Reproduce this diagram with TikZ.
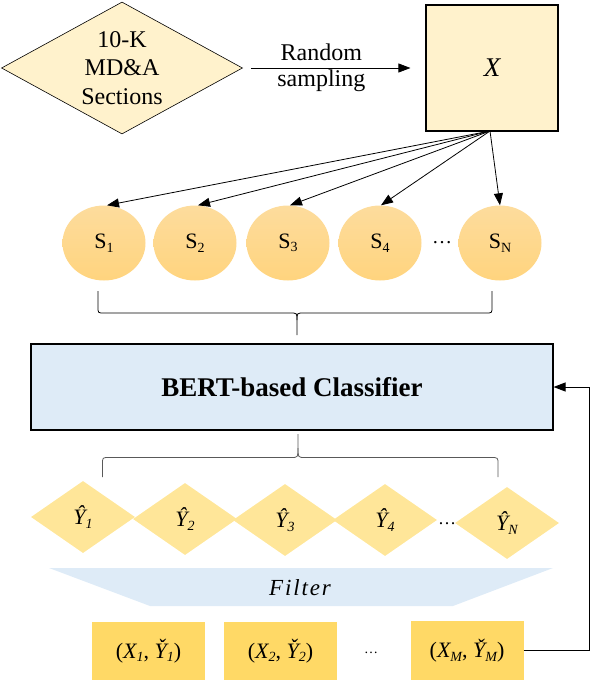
\documentclass[tikz,border=0pt]{standalone}
\usepackage{fontspec}
\setmainfont{Liberation Serif}
\usetikzlibrary{shapes.geometric,arrows.meta}
\definecolor{cream}{HTML}{FFF2CC}
\definecolor{sTop}{HTML}{FDDC9D}
\definecolor{sBot}{HTML}{FFD47E}
\definecolor{yhat}{HTML}{FFE699}
\definecolor{lblue}{HTML}{DEEBF7}
\definecolor{gold}{HTML}{FFD966}
\definecolor{bracegray}{HTML}{595959}
\newcommand{\lowsub}[2][3.5pt]{\raisebox{-#1}{\fontsize{14}{14}\selectfont #2}}
\begin{document}
\begin{tikzpicture}[x=1pt,y=-1pt,
  arr/.style={-{Triangle[length=12pt,width=9pt]}, line width=0.8pt},
  bigtxt/.style={font=\fontsize{24}{28.5}\selectfont},
  scirc/.style={ellipse, minimum width=83pt, minimum height=75pt, inner sep=0pt,
    top color=sTop, bottom color=sBot, font=\fontsize{22}{22}\selectfont},
  ydia/.style={diamond, aspect=1.44, fill=yhat, minimum width=104pt, minimum height=72pt,
    inner sep=0pt, font=\fontsize{22}{22}\selectfont\itshape},
  pbox/.style={rectangle, fill=gold, minimum width=113pt, minimum height=59pt, inner sep=0pt,
    font=\fontsize{22}{22}\selectfont},
  bracestyle/.style={line width=0.8pt, line join=round},
  dots/.style={inner sep=1pt}
]
\useasboundingbox (0,0) rectangle (591,680);

% top row
\node[diamond, aspect=1.83, draw, line width=0.6pt, fill=cream, inner sep=0pt,
  minimum width=241pt, minimum height=132pt, align=center, bigtxt] (src) at (122,68)
  {10-K\\MD\&A\\Sections};
\node[rectangle, draw, line width=1.1pt, fill=cream, minimum width=132pt, minimum height=126pt,
  font=\fontsize{27}{27}\selectfont\itshape] (X) at (492,68) {X};
\draw[arr, shorten <=8pt, shorten >=15pt] (src.east) -- node[pos=0.43, align=center, font=\fontsize{24}{26}\selectfont] {Random\\sampling} (X.west);

% S row
\node[scirc] (s1) at (104,243) {S\lowsub{1}};
\node[scirc] (s2) at (195,243) {S\lowsub{2}};
\node[scirc] (s3) at (288,243) {S\lowsub{3}};
\node[scirc] (s4) at (380,243) {S\lowsub{4}};
\node[scirc] (sN) at (500,243) {S\lowsub{N}};
\node[dots, font=\fontsize{20}{20}\selectfont] (sdots) at (442,243) {…};

\coordinate (xs) at (490,131);
\draw[arr] (xs) -- ([xshift=3pt]s1.north);
\draw[arr] (xs) -- ([xshift=3pt]s2.north);
\draw[arr] (xs) -- ([xshift=2pt]s3.north);
\draw[arr] (xs) -- ([xshift=1pt]s4.north);
\draw[arr] (xs) -- (sN.north);

% brace 1
\draw[bracestyle] (98,291) -- (98,307) .. controls (98,313) .. (104,313) -- (290,313)
  .. controls (297,313) .. (297,320) -- (297,335);
\draw[bracestyle] (492,291) -- (492,307) .. controls (492,313) .. (486,313) -- (304,313)
  .. controls (297,313) .. (297,320);

% BERT
\node[rectangle, draw, line width=1.1pt, fill=lblue, minimum width=522pt, minimum height=86pt,
  font=\fontsize{27}{27}\selectfont\bfseries] (bert) at (292,387) {BERT-based Classifier};

% brace 2
\draw[bracestyle, bracegray] (298,434) -- (298,448) .. controls (298,457.5) .. (291,457.5) -- (109,457.5)
  .. controls (102.5,457.5) .. (102.5,464) -- (102.5,477);
\draw[bracestyle, bracegray] (298,448) .. controls (298,457.5) .. (305,457.5) -- (491,457.5)
  .. controls (498,457.5) .. (498,464) -- (498,477);

% Y-hat row
\node[ydia] (y1) at (83,517) {Ŷ\lowsub{1}};
\node[ydia] (y2) at (185,519) {Ŷ\lowsub{2}};
\node[ydia] (y3) at (285,520) {Ŷ\lowsub{3}};
\node[ydia] (y4) at (385,520) {Ŷ\lowsub{4}};
\node[ydia] (yN) at (507,523) {Ŷ\lowsub{N}};
\node[dots, font=\fontsize{18}{18}\selectfont] (ydots) at (447,524) {…};

% filter
\fill[lblue] (49,568) -- (553,568) -- (453,606) -- (150,606) -- cycle;
\node[font=\fontsize{23}{23}\selectfont\itshape\addfontfeature{LetterSpace=8}] (filter) at (300,588) {Filter};

% pairs
\node[pbox] (p1) at (148.5,651) {(\textit{X\lowsub{1}}, \textit{Y̌\lowsub{1}})};
\node[pbox] (p2) at (280.5,651) {(\textit{X\lowsub{2}}, \textit{Y̌\lowsub{2}})};
\node[dots, font=\fontsize{14}{14}\selectfont] (pdots) at (371,653) {…};
\node[pbox] (pM) at (467,650.5) {(\textit{X\lowsub{M}}, \textit{Y̌\lowsub{M}})};

% feedback
\draw[arr, line width=1pt] (pM.east) -- ++(66,0) |- (bert.east);
\end{tikzpicture}
\end{document}
